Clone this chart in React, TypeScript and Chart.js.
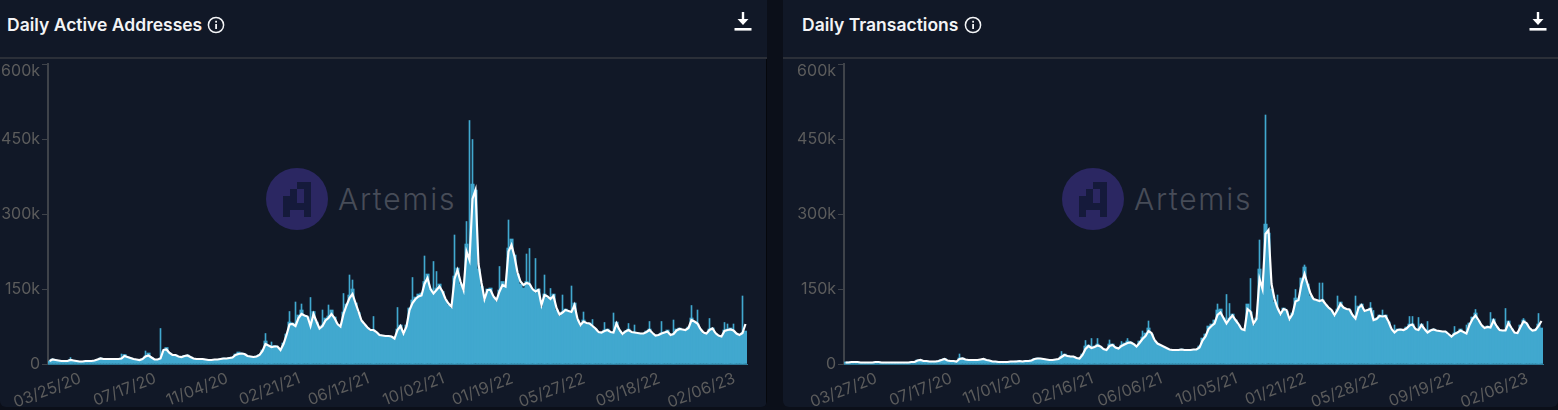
import { useEffect, useRef } from "react";
import { Chart, registerables } from "chart.js";

Chart.register(...registerables);

// all values in thousands
const addrLine = [
  6,9,8,7,6,6,6,8,7,6,5,5,6,6,6,7,9,11,10,10,
  10,10,10,10,11,16,14,12,10,9,8,10,15,17,13,9,9,11,28,29,
  22,18,18,15,14,16,17,14,11,10,10,10,9,8,8,9,9,10,11,11,
  12,13,18,20,21,20,16,15,14,15,18,26,40,37,34,35,35,28,40,58,
  79,80,76,92,100,97,95,76,100,85,71,76,87,92,100,92,80,75,100,117,
  132,140,122,105,87,80,73,68,68,64,58,57,56,56,55,51,68,76,61,75,
  108,122,130,135,137,160,172,150,141,148,155,145,130,121,115,170,188,165,148,225,
  208,330,348,200,162,130,148,148,135,128,145,158,155,225,238,215,183,165,158,162,
  160,150,145,148,118,138,135,130,136,112,99,103,108,106,104,118,90,78,85,82,
  81,76,71,64,63,66,68,64,63,81,68,60,65,68,64,63,62,61,61,64,
  68,62,57,58,61,63,65,58,60,67,70,69,68,72,88,85,81,70,63,61,
  68,71,62,57,55,66,68,69,67,61,58,62,80,
];
const addrBars = [
  6,10,8,7,6,5,6,9,7,6,5,5,6,7,6,7,9,12,10,10,
  10,9,10,10,12,19,14,12,10,9,8,10,16,22,13,9,9,12,26,33,
  22,19,18,15,14,17,18,14,11,10,10,10,9,8,8,9,9,10,12,11,
  13,14,20,24,22,20,16,15,14,16,19,28,46,37,34,37,33,28,42,60,
  84,82,76,98,108,97,94,78,105,84,70,78,92,96,108,94,78,74,104,120,
  138,150,122,103,86,78,72,66,68,62,58,56,56,56,54,51,70,78,60,78,
  112,128,134,140,142,165,180,150,140,152,160,145,128,118,112,176,192,160,146,240,
  212,360,348,190,155,128,150,152,134,125,148,165,158,232,250,218,180,160,152,165,
  158,148,142,150,114,140,132,128,140,108,96,104,110,104,102,122,88,76,88,80,
  82,74,70,62,62,68,70,62,62,84,66,58,66,70,62,62,60,60,60,66,
  70,60,56,58,62,64,68,56,60,70,72,68,66,74,92,84,80,68,60,60,
  70,72,60,55,54,68,70,72,66,60,56,62,66,
];
const addrSpikeAt = [7,24,32,37,72,74,80,82,84,87,91,93,98,100,101,108,116,121,125,128,129,135,139,140,141,150,153,159,160,162,165,167,171,174,178,181,185,188,193,195,200,204,208,214,216,220,225,226,228,231];
const addrSpikeVal = [13,20,26,71,61,44,105,124,120,133,108,118,141,178,168,95,113,173,216,205,185,258,285,487,449,195,288,220,231,211,178,151,138,156,104,89,83,102,81,78,85,85,88,117,108,91,83,80,80,136];
const addrTickAt = [0,25,49,73,96,121,144,168,193,218];
const addrTicks = ["03/25/20","07/17/20","11/04/20","02/21/21","06/12/21","10/02/21","01/19/22","05/27/22","09/18/22","02/06/23"];

const txLine = [
  3,3,4,4,4,3,3,3,3,3,4,4,3,3,3,3,3,3,3,3,
  3,3,4,4,7,8,6,6,5,5,5,6,8,10,7,6,6,5,10,11,
  9,8,8,8,8,9,10,8,7,5,5,4,4,4,4,5,5,5,6,5,
  6,6,7,10,11,11,10,9,8,8,9,10,14,18,16,15,15,12,11,18,
  30,36,32,34,37,35,30,28,36,38,33,31,36,39,42,43,40,35,42,50,
  56,66,62,48,41,38,35,32,29,28,28,28,29,28,28,28,29,29,33,47,
  55,70,76,81,98,103,92,81,90,97,88,80,70,68,110,105,81,90,170,150,
  260,268,160,130,112,100,110,108,90,100,125,128,160,180,160,141,130,128,126,128,
  120,113,108,98,108,120,113,110,109,98,91,112,118,106,108,110,88,90,96,95,
  96,85,70,63,68,69,68,71,77,79,70,68,78,70,63,67,69,67,66,65,
  65,60,55,60,63,67,64,61,78,90,97,88,78,72,74,73,87,76,68,67,
  67,82,72,63,62,74,85,82,72,67,68,76,86,
];
const txBars = [
  4,4,4,4,4,3,3,3,3,3,4,4,3,3,3,3,3,3,3,3,
  3,3,4,4,8,8,6,6,5,5,5,6,9,11,7,6,6,5,12,12,
  9,8,8,8,8,9,10,8,7,5,5,4,4,4,4,5,5,6,6,5,
  7,6,8,11,12,11,10,9,8,8,9,10,16,20,17,15,15,12,11,20,
  36,38,34,36,40,34,30,28,40,40,34,32,38,42,46,44,40,36,46,54,
  62,72,60,46,40,37,34,31,29,28,28,29,30,28,28,28,29,29,36,52,
  60,76,80,88,108,110,92,80,92,100,88,78,68,68,120,104,78,92,190,160,
  280,262,150,124,110,98,112,106,88,102,132,130,172,194,160,136,128,126,124,128,
  118,112,106,96,110,124,112,110,108,96,90,116,120,104,108,112,86,92,98,94,
  98,84,68,62,70,70,68,74,80,80,68,68,80,68,62,68,70,66,66,64,
  64,58,54,62,64,70,62,60,82,94,102,86,76,70,76,72,90,74,66,66,
  68,86,70,62,62,78,88,80,70,66,70,80,72,
];
const txSpikeAt = [33,38,72,80,82,84,88,92,94,99,101,124,127,128,135,138,140,144,150,153,158,159,164,170,175,176,179,183,188,189,191,194,203,207,210,215,220,226,231];
const txSpikeVal = [11,20,25,47,51,51,48,45,51,66,86,120,139,121,171,248,498,138,149,198,162,162,136,136,123,107,108,78,95,95,93,85,75,78,109,103,111,91,101];
const txTickAt = [0,25,48,72,95,120,143,167,192,217];
const txTicks = ["03/27/20","07/17/20","11/01/20","02/16/21","06/06/21","10/05/21","01/21/22","05/28/22","09/19/22","02/06/23"];

const FONT = "Inter";
const AXIS = "#3f434a";
const TICK_TEXT = "#5c5c5c";
const BLUE = "#41a8cf";

function DailyChart({ line, bars, spikeAt, spikeVal, tickAt, ticks, rightPad }: {
  line: number[];
  bars: number[];
  spikeAt: number[];
  spikeVal: number[];
  tickAt: number[];
  ticks: string[];
  rightPad: number;
}) {
  const canvasRef = useRef<HTMLCanvasElement>(null);

  useEffect(() => {
    if (!canvasRef.current) return;
    const labels = line.map((_, i) => {
      const at = tickAt.indexOf(i);
      return at >= 0 ? ticks[at] : "";
    });
    const spikes: (number | null)[] = line.map(() => null);
    spikeAt.forEach((at, i) => {
      spikes[at] = spikeVal[i];
    });

    const chart = new Chart(canvasRef.current, {
      type: "bar",
      data: {
        labels,
        datasets: [
          {
            type: "line" as const,
            data: line,
            borderColor: "#ffffff",
            borderWidth: 2.2,
            pointRadius: 0,
            tension: 0,
            order: 0,
          },
          {
            data: spikes,
            backgroundColor: BLUE,
            barThickness: 1,
            grouped: false,
            order: 1,
          },
          {
            data: bars,
            backgroundColor: BLUE,
            barThickness: 3.4,
            grouped: false,
            order: 2,
          },
        ] as any,
      },
      options: {
        animation: false,
        responsive: true,
        maintainAspectRatio: false,
        layout: { padding: { top: 6, right: rightPad, left: 0, bottom: 0 } },
        plugins: { legend: { display: false }, tooltip: { enabled: false } },
        scales: {
          x: {
            afterFit: (s: any) => {
              s.height = 44;
              s.paddingLeft = 0;
              s.paddingRight = 0;
            },
            grid: { display: false },
            border: { display: true, color: "#2f7c9c", width: 1, z: 1 },
            ticks: {
              autoSkip: false,
              minRotation: 21,
              maxRotation: 21,
              labelOffset: 31,
              padding: -3,
              color: TICK_TEXT,
              font: { family: FONT, size: 16 },
              callback: (_: any, i: number) => labels[i],
            },
          },
          y: {
            min: 0,
            max: 600,
            afterFit: (s: any) => {
              s.width = 48;
              s.paddingTop = 0;
              s.paddingBottom = 0;
            },
            grid: { drawOnChartArea: false, color: AXIS, tickLength: 6 },
            border: { color: AXIS, width: 2 },
            ticks: {
              stepSize: 150,
              padding: 2,
              color: TICK_TEXT,
              // the top label sits below its tick: an empty first line pushes it down
              font: (ctx: any) => ({ family: FONT, size: 16, lineHeight: ctx.tick?.value === 600 ? 0.875 : 1.2 }),
              callback: (v: any) => (v === 0 ? "0" : v === 600 ? ["", "600k"] : `${v}k`),
            },
          },
        },
      },
    });

    return () => {
      chart.destroy();
    };
  }, [line, bars, spikeAt, spikeVal, tickAt, ticks, rightPad]);

  return <canvas ref={canvasRef} />;
}

function InfoIcon({ left }: { left: number }) {
  return (
    <svg width="18" height="18" viewBox="0 0 18 18" style={{ position: "absolute", left, top: 16 }}>
      <circle cx="9" cy="9" r="7.6" fill="none" stroke="#f3f4f6" strokeWidth="1.5" />
      <rect x="8.2" y="8" width="1.8" height="5" fill="#f3f4f6" />
      <rect x="8.2" y="4.8" width="1.8" height="1.8" fill="#f3f4f6" />
    </svg>
  );
}

function DownloadIcon({ left }: { left: number }) {
  return (
    <svg width="18" height="20" viewBox="0 0 18 20" style={{ position: "absolute", left, top: 12 }}>
      <rect x="7.8" y="0" width="2.4" height="9" fill="#ffffff" />
      <path d="M3.5 7 L14.5 7 L9 13 Z" fill="#ffffff" />
      <rect x="0.5" y="16" width="17" height="2.6" fill="#ffffff" />
    </svg>
  );
}

// pixel "A" of the watermark logo
const logoCells = [
  [2, 0, 2, 1], [1, 1, 1, 1], [3, 1, 1, 1], [0, 2, 2, 1], [3, 2, 1, 1],
  [0, 3, 4, 1], [0, 4, 1, 1], [3, 4, 1, 1],
];

function Watermark({ left }: { left: number }) {
  return (
    <div style={{ position: "absolute", left, top: 168, width: 200, height: 62 }}>
      <svg width="62" height="62" viewBox="0 0 62 62" style={{ position: "absolute", left: 0, top: 0 }}>
        <circle cx="31" cy="31" r="31" fill="#2b2762" />
        {logoCells.map(([cx, cy, w, h], i) => (
          <rect key={i} x={17 + cx * 7} y={14 + cy * 7} width={w * 7} height={h * 7} fill="#151a3b" />
        ))}
      </svg>
      <div style={{
        position: "absolute", left: 72, top: 12, fontFamily: FONT, fontWeight: 300,
        fontSize: 30, lineHeight: "38px", color: "#474c58", letterSpacing: 1.7,
      }}>
        Artemis
      </div>
    </div>
  );
}

function Panel({ left, width, title, titleLeft, iconLeft, dlLeft, logoLeft, chartLeft, chartWidth, edge, children }: any) {
  return (
    <div style={{ position: "absolute", left, top: 0, width, height: 407, background: "#111827", borderRadius: "0 0 6px 6px", overflow: "hidden" }}>
      <div style={{
        position: "absolute", left: titleLeft, top: 14, fontFamily: FONT, fontWeight: 600,
        fontSize: 17.5, lineHeight: "22px", color: "#f3f4f6", whiteSpace: "nowrap",
      }}>
        {title}
      </div>
      <InfoIcon left={iconLeft} />
      <DownloadIcon left={dlLeft} />
      <div style={{ position: "absolute", left: 0, top: 57, width, height: 2, background: "#2b2f38" }} />
      {edge && <div style={{ position: "absolute", left: width - 1, top: 59, width: 1, height: 348, background: "#05070c" }} />}
      <Watermark left={logoLeft} />
      <div style={{ position: "absolute", left: chartLeft, top: 58, width: chartWidth, height: 350 }}>
        {children}
      </div>
    </div>
  );
}

export default function App() {
  return (
    <div style={{ position: "fixed", left: 0, top: 0, width: 1558, height: 410, background: "#0b0f19", overflow: "hidden" }}>
      <Panel left={0} width={767} title="Daily Active Addresses" titleLeft={7} iconLeft={207} dlLeft={734} logoLeft={266} chartLeft={0} chartWidth={767} edge>
        <DailyChart line={addrLine} bars={addrBars} spikeAt={addrSpikeAt} spikeVal={addrSpikeVal} tickAt={addrTickAt} ticks={addrTicks} rightPad={20} />
      </Panel>
      <Panel left={783} width={775} title="Daily Transactions" titleLeft={19} iconLeft={181} dlLeft={746} logoLeft={279} chartLeft={13} chartWidth={762} >
        <DailyChart line={txLine} bars={txBars} spikeAt={txSpikeAt} spikeVal={txSpikeVal} tickAt={txTickAt} ticks={txTicks} rightPad={15} />
      </Panel>
    </div>
  );
}
